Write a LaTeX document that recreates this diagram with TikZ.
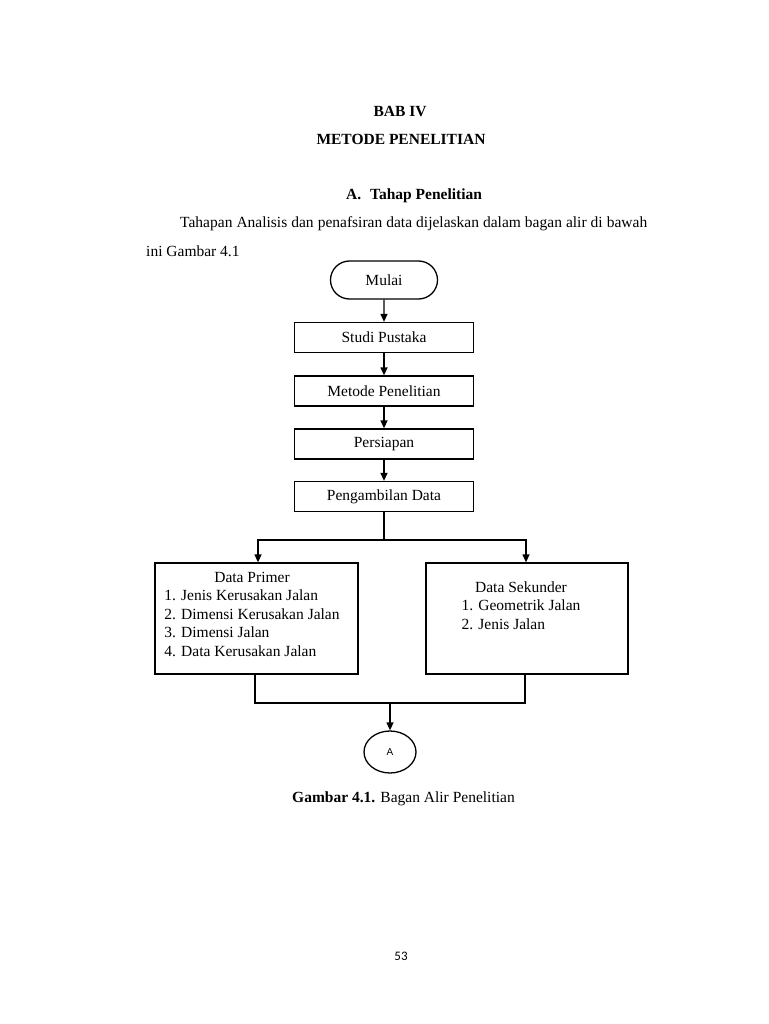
\documentclass[tikz,border=0pt]{standalone}
\usepackage{fontspec}
\setmainfont{Liberation Serif}
\newfontfamily\sansA{Liberation Sans}
\newfontfamily\pagenumfont{Carlito}
\usetikzlibrary{arrows.meta,shapes.geometric,shapes.misc}
\begin{document}
\begin{tikzpicture}[x=1pt,y=-1pt,
  every node/.style={font=\fontsize{15.5}{18.5}\selectfont, inner sep=0pt},
  txt/.style={anchor=base},
  stepbox/.style={draw, line width=1.3pt, minimum width=179pt, minimum height=30pt},
  startbox/.style={draw, line width=1.3pt, rounded rectangle, minimum width=107pt, minimum height=38pt},
  bigbox/.style={draw, line width=1.3pt, minimum height=111pt},
  conn/.style={draw, line width=1.3pt},
  arr/.style={conn, -{Triangle[length=8pt,width=7pt]}},
  circ/.style={draw, line width=1.3pt, ellipse, minimum width=52pt, minimum height=42pt, font=\sansA\fontsize{10}{12}\selectfont}
]
\useasboundingbox (0,0) rectangle (768,1024);
\fill[white] (0,0) rectangle (768,1024);

% headings
\node[txt] (bab) at (400,117) {\textbf{BAB IV}};
\node[txt] (judul) at (401,145) {\textbf{METODE PENELITIAN}};
\node[anchor=base west] (sub) at (346,200) {\textbf{\makebox[24pt][l]{A.}Tahap Penelitian}};
\node[anchor=base west] (par1) at (180,228) {\makebox[467pt][s]{Tahapan Analisis dan penafsiran data dijelaskan dalam bagan alir di bawah}};
\node[anchor=base west] (par2) at (146,256) {ini Gambar 4.1};

% flowchart
\node[startbox] (mulai) at (384,280) {Mulai};
\node[stepbox] (studi) at (384,337.5) {Studi Pustaka};
\node[stepbox] (metode) at (384,391) {Metode Penelitian};
\node[stepbox] (persiapan) at (384,444) {Persiapan};
\node[stepbox] (ambil) at (384,496.5) {Pengambilan Data};

\node[bigbox, minimum width=203pt] (primer) at (256.5,618.5) {};
\node[bigbox, minimum width=202pt] (sekunder) at (527,618.5) {};

\node[txt] (primertxt) at (252,582) {\begin{tabular}[t]{@{}l@{}}
\multicolumn{1}{@{}c@{}}{Data Primer}\\
1. Jenis Kerusakan Jalan\\
2. Dimensi Kerusakan Jalan\\
3. Dimensi Jalan\\
4. Data Kerusakan Jalan
\end{tabular}};
\node[txt] (sekundertxt) at (521,592) {\begin{tabular}[t]{@{}l@{}}
\multicolumn{1}{@{}c@{}}{Data Sekunder}\\
1. Geometrik Jalan\\
2. Jenis Jalan
\end{tabular}};

\node[circ] (A) at (390,752) {A};

% connectors
\draw[arr] (mulai) -- (studi);
\draw[arr] (studi) -- (metode);
\draw[arr] (metode) -- (persiapan);
\draw[arr] (persiapan) -- (ambil);
\coordinate (split) at (384,540);
\draw[conn] (ambil.south) -- (split);
\draw[arr] (split) -| ([xshift=1.5pt]primer.north);
\draw[arr] (split) -| ([xshift=-1pt]sekunder.north);
\coordinate (mL) at (255,703);
\coordinate (mR) at (525,703);
\draw[conn] (primer.south -| mL) -- (mL) -- (mR) -- (sekunder.south -| mR);
\draw[arr] (A.north |- mL) -- (A.north);

% caption
\node[anchor=base west] (cap) at (292,802) {\textbf{Gambar 4.1.} Bagan Alir Penelitian};
\node[txt, font=\pagenumfont\fontsize{13}{15}\selectfont] (page) at (401,960) {53};
\end{tikzpicture}
\end{document}
